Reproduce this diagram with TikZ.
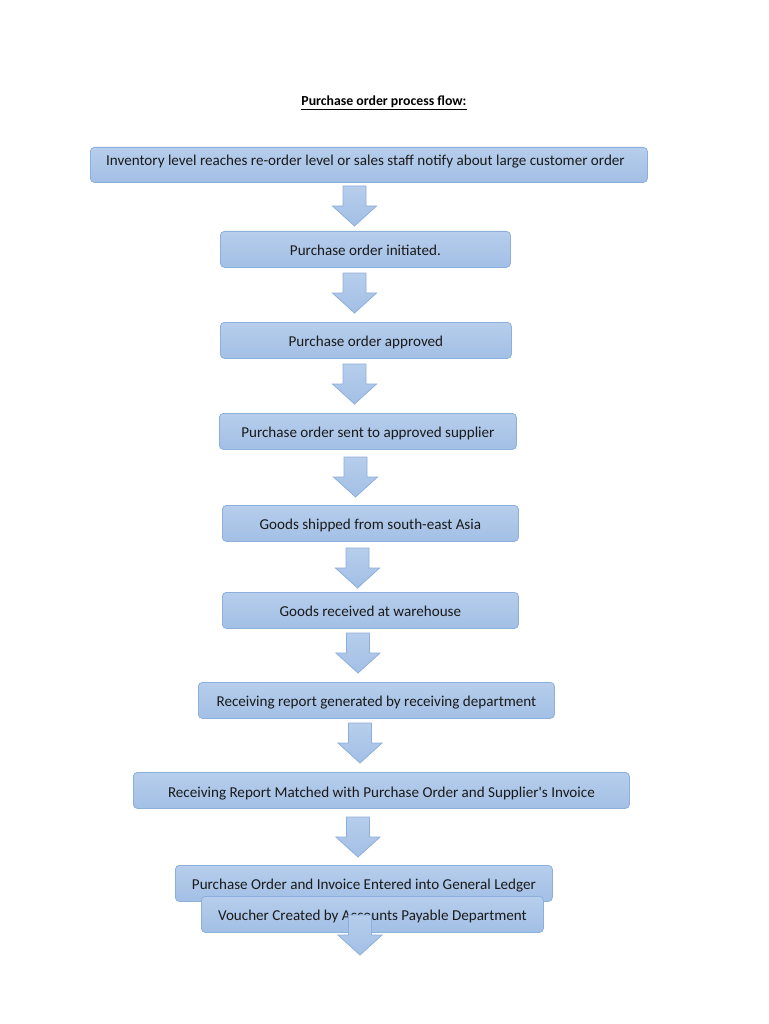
\documentclass[tikz,border=0pt]{standalone}
\usepackage{fontspec}
\setmainfont{Carlito}
\newfontfamily\straightq{Carlito}
\definecolor{boxtop}{HTML}{B7CEEC}
\definecolor{boxbot}{HTML}{A2BFE5}
\definecolor{boxline}{HTML}{8DAFDC}
\definecolor{txt}{HTML}{1A1A1A}
\tikzset{
  flowbox/.style={draw=boxline, line width=0.8pt, rounded corners=4pt,
    top color=boxtop, bottom color=boxbot, text=txt,
    font=\fontsize{15.1}{17}\selectfont, inner sep=0pt, anchor=north west,
    text height=13pt, text depth=1pt},
  blockarrow/.style={draw=boxline, line width=0.8pt, top color=boxtop, bottom color=boxbot}
}
% #1 = name, #2 = centre x, #3 = top y (pixel units)
\newcommand{\downblock}[3]{%
  \coordinate (#1) at (#2,#3);
  \path[blockarrow] ($(#1)+(-11.5,0)$) -- ($(#1)+(11.5,0)$) -- ($(#1)+(11.5,20)$)
    -- ($(#1)+(22,20)$) -- ($(#1)+(0,40)$) -- ($(#1)+(-22,20)$)
    -- ($(#1)+(-11.5,20)$) -- cycle;
}
\usetikzlibrary{calc}
\begin{document}
\begin{tikzpicture}[x=1pt,y=-1pt]
\useasboundingbox (0,0) rectangle (768,1024);
\fill[white] (0,0) rectangle (768,1024);

\node[text=black, font=\fontsize{13.8}{15}\selectfont\bfseries] (title) at (384,103)
  {\underline{Purchase order process flow:}};

\node[flowbox, minimum width=557pt, minimum height=35pt, text height=8pt, text depth=6pt] (b1) at (90,147)
  {Inventory level reaches re-order level or sales staff notify about large customer order\hspace*{7pt}};
\downblock{a1}{354.5}{186}
\node[flowbox, minimum width=290pt, minimum height=36pt] (b2) at (220,231)
  {Purchase order initiated.};
\downblock{a2}{354.5}{273}
\node[flowbox, minimum width=291pt, minimum height=36pt] (b3) at (220,322)
  {Purchase order approved};
\downblock{a3}{354.5}{364}
\node[flowbox, minimum width=297pt, minimum height=36pt] (b4) at (219,413)
  {Purchase order sent to approved supplier};
\downblock{a4}{355.5}{457}
\node[flowbox, minimum width=296pt, minimum height=36pt] (b5) at (222,505)
  {Goods shipped from south-east Asia};
\downblock{a5}{357.5}{548}
\node[flowbox, minimum width=296pt, minimum height=36pt] (b6) at (222,592)
  {Goods received at warehouse};
\downblock{a6}{358}{633}
\node[flowbox, minimum width=356pt, minimum height=36pt] (b7) at (198,682)
  {Receiving report generated by receiving department};
\downblock{a7}{360}{723}
\node[flowbox, minimum width=496pt, minimum height=36pt, text height=14pt, text depth=0pt] (b8) at (133,772)
  {Receiving Report Matched with Purchase Order and Supplier{\straightq '}s Invoice};
\downblock{a8}{358}{817}
\node[flowbox, minimum width=377pt, minimum height=36pt] (b9) at (175,865)
  {Purchase Order and Invoice Entered into General Ledger};
\node[flowbox, minimum width=342pt, minimum height=36pt] (b10) at (201,896)
  {Voucher Created by Accounts Payable Department};
\downblock{a9}{360}{915}
\end{tikzpicture}
\end{document}
